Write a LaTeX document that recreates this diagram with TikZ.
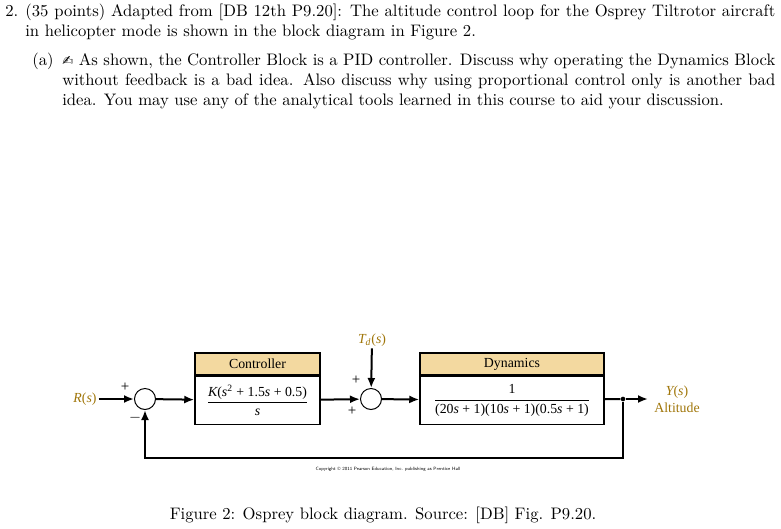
\documentclass[tikz,border=0pt]{standalone}
\usepackage{fontspec}
\newfontfamily\timesfont{Liberation Serif}
\newfontfamily\symfont{DejaVu Sans}
\usetikzlibrary{arrows.meta, positioning}
\definecolor{labgold}{RGB}{160,118,10}
\definecolor{headtan}{RGB}{243,217,160}
\newcommand{\ti}[1]{{\timesfont\itshape #1}}
\newcommand{\blockfont}{\timesfont\fontsize{8.3}{10}\selectfont}

\begin{document}
\begin{tikzpicture}[
        x=0.6pt, y=-0.6pt,
        arr/.style={-{Latex[length=6pt, width=4.8pt]}, line width=1.2pt},
        sumnode/.style={circle, draw, line width=0.6pt, minimum size=12.6pt, inner sep=0pt},
        headbox/.style={draw, fill=headtan, line width=0.9pt, minimum height=13.2pt,
            inner sep=0pt, font=\blockfont},
        bodybox/.style={draw, line width=0.9pt, minimum height=28.8pt,
            inner sep=0pt, font=\blockfont},
        siglab/.style={font=\blockfont, text=labgold, align=center, inner sep=1pt},
        pmlab/.style={font=\timesfont\fontsize{9}{10}\selectfont, inner sep=0pt},
    ]
    \useasboundingbox (0,0) rectangle (781,528);

    %% ---- Question text ----
    \node[anchor=north west, text width=462pt, align=justify, inner sep=0pt] (qtext) at (5,4) {%
        \noindent\hangindent=12pt\hangafter=1\makebox[12pt][l]{2.}(35 points) Adapted from
        [DB 12th P9.20]: The altitude control loop for the Osprey Tiltrotor aircraft
        in helicopter mode is shown in the block diagram in Figure 2.\par
        \vspace{5pt}
        \noindent\hangindent=34.2pt\hangafter=1\hspace*{16.2pt}\makebox[18pt][l]{(a)}%
        {\symfont\footnotesize ✍} As shown, the Controller Block is a PID controller.
        Discuss why operating the Dynamics Block without feedback is a bad idea. Also
        discuss why using proportional control only is another bad idea. You may use
        any of the analytical tools learned in this course to aid your discussion.\par};

    %% ---- Blocks ----
    \node[headbox, minimum width=75pt] (ctrlhead) at (257.5,364) {Controller};
    \node[bodybox, minimum width=75pt, below=0pt of ctrlhead] (ctrl)
        {$\displaystyle\frac{\mbox{\ti{K}(\ti{s}\textsuperscript{2} + 1.5\ti{s} + 0.5)}}{\mbox{\ti{s}}}$};
    \node[headbox, minimum width=110.4pt] (dynhead) at (512,364) {Dynamics};
    \node[bodybox, minimum width=110.4pt, below=0pt of dynhead] (dyn)
        {$\displaystyle\frac{\mbox{1}}{\mbox{(20\ti{s} + 1)(10\ti{s} + 1)(0.5\ti{s} + 1)}}$};

    %% ---- Summing junctions ----
    \node[sumnode] (sum1) at (145,399) {};
    \node[sumnode] (sum2) at (371,399) {};
    \node[pmlab] (p1) at (125,387) {+};
    \node[pmlab] (m1) at (135,418) {$-$};
    \node[pmlab] (p2) at (356,380) {+};
    \node[pmlab] (p3) at (352,411) {+};

    %% ---- Signals ----
    \node[siglab] (rin) at (85,399) {\ti{R}(\ti{s})};
    \node[siglab] (td) at (372,340) {\ti{T\textsubscript{d}}(\ti{s})};
    \node[siglab] (yout) at (677,399) {\ti{Y}(\ti{s})\\Altitude};
    \node[circle, fill, inner sep=0pt, minimum size=2.8pt] (tap) at (623,399) {};
    \coordinate (outend) at (648,399);

    %% ---- Connectors ----
    \draw[arr] (rin) -- (sum1);
    \draw[arr] (sum1) -- (ctrl);
    \draw[arr] (ctrl) -- (sum2);
    \draw[arr] (td) -- (sum2);
    \draw[arr] (sum2) -- (dyn);
    \draw[line width=1.2pt] (dyn) -- (tap);
    \draw[arr] (tap) -- (outend);
    \draw[arr] (tap) -- ++(0,59) -| (sum1.south);

    %% ---- Footers ----
    \node[font=\fontsize{2.8}{3}\selectfont\sffamily, inner sep=0pt] (copy) at (388,469)
        {Copyright \textcopyright{} 2011 Pearson Education, Inc. publishing as Prentice Hall};
    \node[inner sep=0pt] (caption) at (383,515)
        {Figure 2: Osprey block diagram. Source: [DB] Fig. P9.20.};
\end{tikzpicture}
\end{document}
